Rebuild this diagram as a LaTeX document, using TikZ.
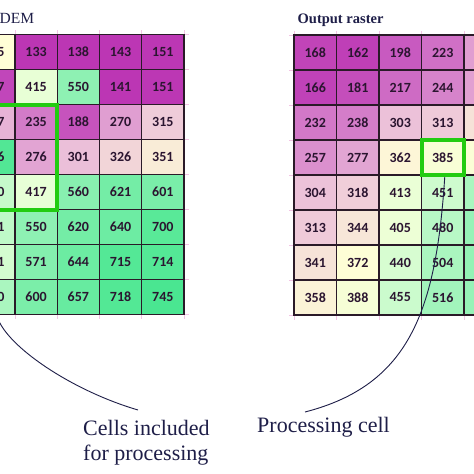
\documentclass[tikz,border=0pt]{standalone}
\usepackage{fontspec}
\newfontfamily\numfont{Carlito}
\newfontfamily\labfont{Liberation Serif}

\definecolor{k0}{HTML}{BC36B4}
\definecolor{k1}{HTML}{C95CC0}
\definecolor{k2}{HTML}{D888CC}
\definecolor{k3}{HTML}{EBBED9}
\definecolor{k4}{HTML}{F6E2D8}
\definecolor{k5}{HTML}{FFFED6}
\definecolor{k6}{HTML}{E6FFD6}
\definecolor{k7}{HTML}{B8F8C6}
\definecolor{k8}{HTML}{88F0B0}
\definecolor{k9}{HTML}{48E690}
\definecolor{gridc}{HTML}{2A1A28}
\definecolor{txtc}{HTML}{2B1530}
\definecolor{navy}{HTML}{1E1E48}
\definecolor{winc}{HTML}{22CC11}
\definecolor{tickc}{HTML}{F2C4E4}

\newcommand\segmix[5]{%
  \pgfmathtruncatemacro\mixp{round((#1-#2)/(#3-#2)*100)}%
  \colorlet{vc}{#5!\mixp!#4}}
\newcommand\valcolor[1]{%
  \ifnum#1<150 \colorlet{vc}{k0}\else
  \ifnum#1<200 \segmix{#1}{150}{200}{k0}{k1}\else
  \ifnum#1<250 \segmix{#1}{200}{250}{k1}{k2}\else
  \ifnum#1<300 \segmix{#1}{250}{300}{k2}{k3}\else
  \ifnum#1<340 \segmix{#1}{300}{340}{k3}{k4}\else
  \ifnum#1<370 \segmix{#1}{340}{370}{k4}{k5}\else
  \ifnum#1<420 \segmix{#1}{370}{420}{k5}{k6}\else
  \ifnum#1<480 \segmix{#1}{420}{480}{k6}{k7}\else
  \ifnum#1<560 \segmix{#1}{480}{560}{k7}{k8}\else
  \ifnum#1<750 \segmix{#1}{560}{750}{k8}{k9}\else
  \colorlet{vc}{k9}\fi\fi\fi\fi\fi\fi\fi\fi\fi\fi}

\tikzset{
  cell/.style={draw=gridc, line width=1.1pt, minimum height=35pt, inner sep=0pt,
    text=txtc, font=\numfont\bfseries\fontsize{14}{14}\selectfont},
  lcell/.style={cell, minimum width=42.25pt},
  rcell/.style={cell, minimum width=42.5pt},
  winbox/.style={draw=winc, line width=4pt, inner sep=0pt},
  lbl/.style={text=navy, inner sep=0pt, font=\labfont\fontsize{22}{25}\selectfont},
  ttlL/.style={text=navy, inner sep=0pt, font=\labfont\fontsize{15.5}{16}\selectfont},
  ttlR/.style={text=navy, inner sep=0pt, font=\labfont\bfseries\fontsize{14.5}{15}\selectfont},
  leader/.style={draw=navy, line width=0.9pt},
  tick/.style={draw=tickc, line width=0.8pt},
}

% left grid row: #1 row, #2 partial colour, #3 visible digit, #4-#7 values
\newcommand\Lrow[7]{%
  \pgfmathsetmacro\yy{34.5+35*#1+17.5}%
  \node[lcell, fill=#2] (L-#1-0) at (-6.125,\yy) {\phantom{00}#3};
  \foreach \v [count=\c] in {#4,#5,#6,#7} {
    \valcolor{\v}
    \node[lcell, fill=vc] (L-#1-\c) at ({-6.125+42.25*\c},\yy) {\v};
  }}
% right grid row: #1 row, #2 partial colour, #3-#6 values
\newcommand\Rrow[6]{%
  \pgfmathsetmacro\yy{35+35*#1+17.5}%
  \foreach \v [count=\c from 0] in {#3,#4,#5,#6} {
    \valcolor{\v}
    \node[rcell, fill=vc] (R-#1-\c) at ({315.25+42.5*\c},\yy) {\v};
  }
  \node[rcell, fill=#2] (R-#1-4) at (485.25,\yy) {};}

\begin{document}
\begin{tikzpicture}[x=1pt,y=-1pt]
\useasboundingbox (0,0) rectangle (474,474);
\fill[white] (0,0) rectangle (474,474);
\clip (0,0) rectangle (474,474);

% ticks
\foreach \k in {0,...,8} {
  \draw[tick] (184,{34.5+35*\k}) -- (189,{34.5+35*\k});
  \draw[tick] (289,{35+35*\k}) -- (294,{35+35*\k});
}
\foreach \k in {0,...,4} {
  \draw[tick] ({15+42.25*\k},30) -- ({15+42.25*\k},34.5);
  \draw[tick] ({15+42.25*\k},314.5) -- ({15+42.25*\k},319);
  \draw[tick] ({294+42.5*\k},30.5) -- ({294+42.5*\k},35);
  \draw[tick] ({294+42.5*\k},315) -- ({294+42.5*\k},319.5);
}

% left raster
\Lrow{0}{k5}{5}{133}{138}{143}{151}
\Lrow{1}{k0!92!white}{7}{415}{550}{141}{151}
\Lrow{2}{k3!80!k2}{7}{235}{188}{270}{315}
\Lrow{3}{k9!85!k8}{6}{276}{301}{326}{351}
\Lrow{4}{k7!70!k6}{0}{417}{560}{621}{601}
\Lrow{5}{k7!85!k6}{1}{550}{620}{640}{700}
\Lrow{6}{k6!60!k7}{1}{571}{644}{715}{714}
\Lrow{7}{k7!70!k8}{0}{600}{657}{718}{745}

% right raster
\Rrow{0}{k2!60!k3}{168}{162}{198}{223}
\Rrow{1}{k2!55!k3}{166}{181}{217}{244}
\Rrow{2}{k4}{232}{238}{303}{313}
\Rrow{3}{k5!85!k6}{257}{277}{362}{385}
\Rrow{4}{k7!70!k8}{304}{318}{413}{451}
\Rrow{5}{k8!70!k7}{313}{344}{405}{480}
\Rrow{6}{k8!75!k7}{341}{372}{440}{504}
\Rrow{7}{k8!70!k7}{358}{388}{455}{516}

% processing windows
\node[winbox, minimum width=126.75pt, minimum height=105pt] (Lwin) at (-6.125,157) {};
\node[winbox, minimum width=42.5pt, minimum height=35pt] (Rwin) at (R-3-3) {};

% titles
\node[ttlL, anchor=base west] (tDEM) at (-0.5,23) {DEM};
\node[ttlR, anchor=base west] (tOut) at (297.5,23.5) {Output raster};

% labels
\node[lbl, anchor=north west, align=left] (lblL) at (83,420) {Cells included\\for processing};
\node[lbl, anchor=base west] (lblR) at (257,432) {Processing cell};

% leaders
\coordinate (Lstart) at (-3,316);
\coordinate (Lend) at (138,410);
\coordinate (Rend) at (305,412);
\draw[leader] (Lstart) .. controls (5,345) and (70,390) .. (Lend);
\draw[leader] ([xshift=2pt]Rwin.south) .. controls (436,310) and (410,385) .. (Rend);
\end{tikzpicture}
\end{document}
